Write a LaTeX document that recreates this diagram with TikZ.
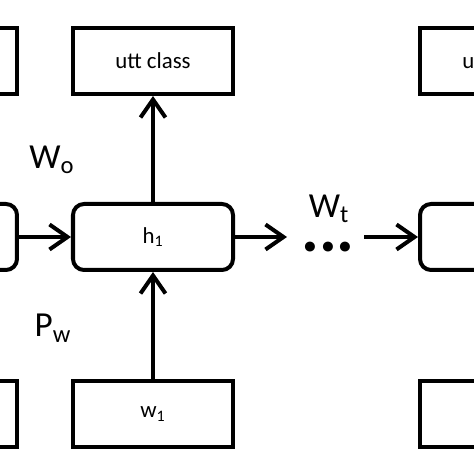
\documentclass[tikz,border=0pt]{standalone}
\usepackage{fontspec}
\setmainfont{Carlito}
\usetikzlibrary{positioning}
\usetikzlibrary{arrows.meta}
\tikzstyle{box} = [rectangle,draw=black,line width=0.08cm,minimum width=3.2cm,minimum height=1.32cm,font=\fontsize{13}{15}\selectfont]
\tikzstyle{hid} = [box,rounded corners=0.22cm]
\tikzstyle{wlab} = [font=\fontsize{20}{24}\selectfont]
\tikzstyle{link} = [->,line width=0.08cm]
\tikzset{>={Straight Barb[length=0.36cm,width=0.5cm]}}

\begin{document}
\begin{tikzpicture}
  \clip (-3.06,-4.74) rectangle (6.42,4.74);

  \node [hid] (h1) {h\textsubscript{1}};
  \node [box,above=2.12cm of h1] (o1) {utt class};
  \node [box,below=2.14cm of h1] (w1) {w\textsubscript{1}};

  \node [hid,left=1.04cm of h1] (h0) {};
  \node [box,above=2.12cm of h0] (o0) {};
  \node [box,below=2.14cm of h0] (w0) {};

  \node [hid,right=3.66cm of h1] (h2) {};
  \node [box,above=2.12cm of h2] (o2) {utt class};
  \node [box,below=2.14cm of h2] (w2) {};

  \node [wlab] (wo) at (-2.02,1.54) {W\textsubscript{o}};
  \node [wlab] (pw) at (-2.0,-1.82) {P\textsubscript{w}};
  \node [wlab] (wt) at (3.52,0.56) {W\textsubscript{t}};

  \coordinate [right=1.04cm of h1.east] (a1);
  \coordinate [left=1.08cm of h2.west] (a2);
  \node [font=\fontsize{38}{40}\bfseries\selectfont,anchor=base,inner sep=0pt,text height=0.2cm,text depth=0pt] (dots) at (3.5,-0.30) {...};

  \draw [link] (h0) -- (h1);
  \draw [link] (h1) -- (o1);
  \draw [link] (w1) -- (h1);
  \draw [link] (h1) -- (a1);
  \draw [link] (a2) -- (h2);
\end{tikzpicture}
\end{document}
